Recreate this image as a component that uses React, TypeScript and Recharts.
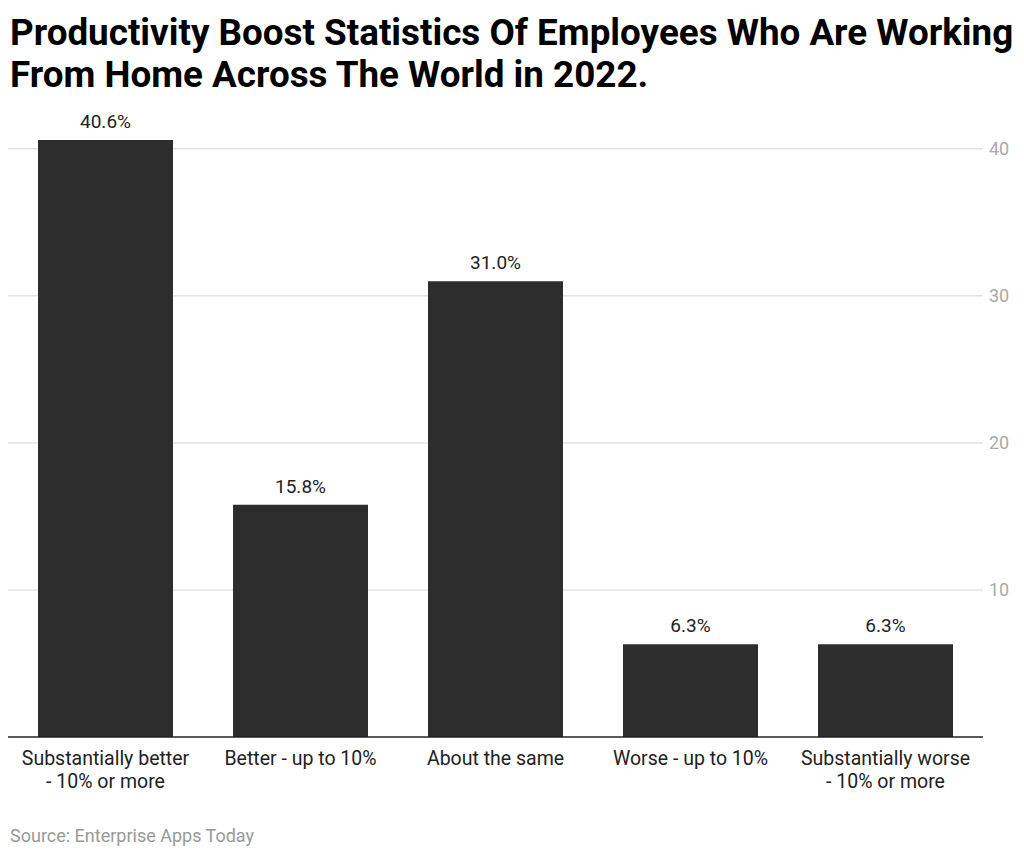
import React from 'react';
import { BarChart, Bar, XAxis, YAxis, CartesianGrid, LabelList } from 'recharts';

const categories = [
  'Substantially better\n- 10% or more',
  'Better - up to 10%',
  'About the same',
  'Worse - up to 10%',
  'Substantially worse\n- 10% or more',
];
const shares = [40.6, 15.8, 31.0, 6.3, 6.3];
const yTicks = [0, 10, 20, 30, 40];
const gridValues = [10, 20, 30, 40];

const data = categories.map((name, i) => ({ name, value: shares[i] }));

const FONT = 'Roboto, "Noto Sans", sans-serif';

// category labels can wrap onto two lines
const CategoryTick = ({ x, y, payload }: any) => {
  const lines = String(payload.value).split('\n');
  return (
    <text x={x} y={y} textAnchor="middle" fill="#222" fontSize={19.5} fontFamily={FONT}>
      {lines.map((line, i) => (
        <tspan key={i} x={x} dy={i === 0 ? 20 : 23}>
          {line}
        </tspan>
      ))}
    </text>
  );
};

export default function App() {
  return (
    <div
      style={{
        position: 'absolute',
        left: 0,
        top: 0,
        width: 1024,
        height: 856,
        background: '#fff',
        fontFamily: FONT,
      }}
    >
      <div
        style={{
          position: 'absolute',
          left: 10,
          top: 12,
          fontSize: 36.8,
          fontWeight: 700,
          lineHeight: '42px',
          color: '#000',
          whiteSpace: 'nowrap',
        }}
      >
        Productivity Boost Statistics Of Employees Who Are Working
        <br />
        From Home Across The World in 2022.
      </div>

      <div style={{ position: 'absolute', left: 0, top: 0 }}>
        <BarChart
          width={1024}
          height={856}
          data={data}
          margin={{ top: 140, right: 5, bottom: 89, left: 8 }}
        >
          <CartesianGrid
            vertical={false}
            horizontalValues={gridValues}
            stroke="#e3e3e3"
            strokeWidth={1.5}
          />
          <XAxis
            dataKey="name"
            height={30}
            axisLine={{ stroke: '#222', strokeWidth: 1.5 }}
            tickLine={false}
            interval={0}
            tick={<CategoryTick />}
          />
          <YAxis
            orientation="right"
            width={36}
            domain={[0, 'dataMax']}
            ticks={yTicks}
            tickFormatter={(v: number) => (v === 0 ? '' : String(v))}
            axisLine={false}
            tickLine={false}
            tickSize={0}
            tickMargin={6}
            tick={{ fill: '#aaa', fontSize: 18, fontFamily: FONT }}
          />
          <Bar dataKey="value" fill="#2d2d2d" barSize={135} isAnimationActive={false}>
            <LabelList
              dataKey="value"
              position="top"
              offset={12}
              formatter={(v: any) => `${Number(v).toFixed(1)}%`}
              style={{ fill: '#222', fontSize: 19, fontFamily: FONT }}
            />
          </Bar>
        </BarChart>
      </div>

      <div
        style={{
          position: 'absolute',
          left: 10,
          top: 825,
          fontSize: 18,
          color: '#999',
        }}
      >
        Source: Enterprise Apps Today
      </div>
    </div>
  );
}
